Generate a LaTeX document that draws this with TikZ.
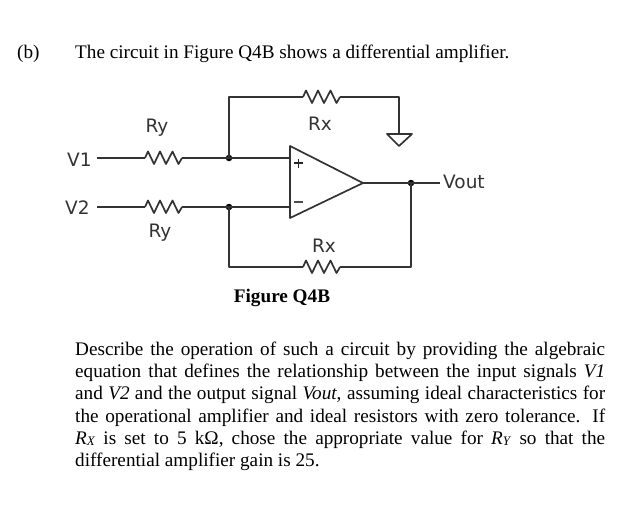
\documentclass[tikz,border=0pt]{standalone}
\usepackage{fontspec}
\setmainfont{Liberation Serif}
\newfontfamily\labelfont{DejaVu Sans}
\newcommand{\subX}[1]{\textit{R}\raisebox{-0.2ex}{\fontsize{13}{13}\selectfont\textit{#1}}}
\tikzset{
  wire/.style={draw=black!80,line width=1.7pt,line join=round},
  dot/.style={circle,fill=black,inner sep=0pt,minimum size=6.5pt},
  cirlabel/.style={font=\labelfont\fontsize{18.5}{20}\selectfont,text=black!80,inner sep=0pt,anchor=base},
  bodytext/.style={font=\fontsize{19.2}{22}\selectfont,inner sep=0pt,anchor=base west},
  resistor/.pic={\draw[wire] (0,0) -- (3,-6.5) -- (9,6) -- (15,-6.5) -- (21,6) -- (27.5,-6.5) -- (33.5,6) -- (37,0);}
}
\begin{document}
\begin{tikzpicture}[x=1pt,y=-1pt]
\useasboundingbox (0,0) rectangle (617,516);
\fill[white] (0,0) rectangle (617,516);
% question text
\node[bodytext] (qb) at (17,59) {(b)};
\node[bodytext] (intro) at (75,59) {The circuit in Figure Q4B shows a differential amplifier.};
% junctions and corners
\coordinate (v1s) at (97,158);
\coordinate (v2s) at (97,207);
\coordinate (r1a) at (145,158);
\coordinate (r1b) at (182,158);
\coordinate (r2a) at (145,207);
\coordinate (r2b) at (182,207);
\coordinate (tl) at (229,97);
\coordinate (bl) at (229,267);
\coordinate (r3a) at (303,97);
\coordinate (r3b) at (340,97);
\coordinate (r4a) at (303,267);
\coordinate (r4b) at (340,267);
\coordinate (tr) at (399,97);
\coordinate (gt) at (399,134);
\coordinate (br) at (411,267);
\coordinate (oplus) at (290,158);
\coordinate (ominus) at (290,207);
\coordinate (otip) at (363,183);
\coordinate (vend) at (440,183);
\node[dot] (j1) at (229,158) {};
\node[dot] (j2) at (229,207) {};
\node[dot] (j3) at (411,183) {};
% wires
\draw[wire] (v1s) -- (r1a);
\draw[wire] (r1b) -- (j1.center) -- (oplus);
\draw[wire] (v2s) -- (r2a);
\draw[wire] (r2b) -- (j2.center) -- (ominus);
\draw[wire] (j1.center) -- (tl) -- (r3a);
\draw[wire] (r3b) -- (tr) -- (gt);
\draw[wire] (j2.center) -- (bl) -- (r4a);
\draw[wire] (r4b) -- (br) -- (j3.center);
\draw[wire] (otip) -- (vend);
% resistors
\pic at (r1a) {resistor};
\pic at (r2a) {resistor};
\pic at (r3a) {resistor};
\pic at (r4a) {resistor};
% op-amp and ground
\draw[wire] (290,146) -- (290,218) -- (otip) -- cycle;
\draw[wire] (387,134) -- (412,134) -- (399,146) -- cycle;
\draw[line width=1.8pt,draw=black!85] (294,163) -- (303,163) (298.5,158.5) -- (298.5,167.5);
\draw[line width=1.4pt,draw=black!70] (294,202) -- (303,202);
% labels
\node[cirlabel] (lry1) at (157,132) {Ry};
\node[cirlabel] (lry2) at (160,237) {Ry};
\node[cirlabel] (lrx1) at (320,130) {Rx};
\node[cirlabel] (lrx2) at (324,252) {Rx};
\node[cirlabel,anchor=base west] (lv1) at (67,166) {V1};
\node[cirlabel,anchor=base west] (lv2) at (65,214) {V2};
\node[cirlabel,anchor=base west] (lvout) at (443,188) {Vout};
\node[bodytext,anchor=base,font=\bfseries\fontsize{19.2}{22}\selectfont] (figcap) at (282,302) {Figure Q4B};
% paragraph
\node[bodytext] (p1) at (75,355) {\makebox[530pt][s]{Describe the operation of such a circuit by providing the algebraic}};
\node[bodytext] (p2) at (75,377) {\makebox[530pt][s]{equation that defines the relationship between the input signals \textit{V1}}};
\node[bodytext] (p3) at (75,399) {\makebox[530pt][s]{and \textit{V2} and the output signal \textit{Vout}, assuming ideal characteristics for}};
\node[bodytext] (p4) at (75,422) {\makebox[530pt][s]{the operational amplifier and ideal resistors with zero tolerance. If}};
\node[bodytext] (p5) at (75,444) {\makebox[530pt][s]{\subX{X} is set to 5 kΩ, chose the appropriate value for \subX{Y} so that the}};
\node[bodytext] (p6) at (75,466) {differential amplifier gain is 25.};
\end{tikzpicture}
\end{document}
